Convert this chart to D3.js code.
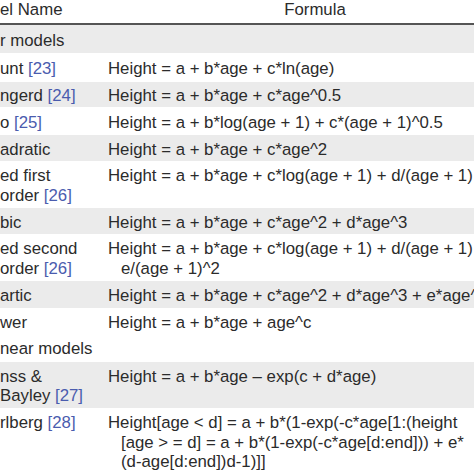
<!DOCTYPE html>
<html>
<head>
<meta charset="utf-8">
<script src="https://d3js.org/d3.v7.min.js"></script>
<style>
  body { margin: 0; background: #fff; }
  text { font-family: "Liberation Sans", Arial, sans-serif; font-size: 16.8px; fill: #2b2b2b; }
  .ref { fill: #4a5cae; }
</style>
</head>
<body>
<script>
// table content (left column is cut off at the edge)
var headers = ["el Name", "Formula"];
var names = [
  [["r models", ""]],
  [["unt ", "[23]"]],
  [["ngerd ", "[24]"]],
  [["o ", "[25]"]],
  [["adratic", ""]],
  [["ed first", ""], ["order ", "[26]"]],
  [["bic", ""]],
  [["ed second", ""], ["order ", "[26]"]],
  [["artic", ""]],
  [["wer", ""]],
  [["near models", ""]],
  [["nss &", ""], ["Bayley ", "[27]"]],
  [["rlberg ", "[28]"]]
];
var formulas = [
  [],
  ["Height = a + b*age + c*ln(age)"],
  ["Height = a + b*age + c*age^0.5"],
  ["Height = a + b*log(age + 1) + c*(age + 1)^0.5"],
  ["Height = a + b*age + c*age^2"],
  ["Height = a + b*age + c*log(age + 1) + d/(age + 1)"],
  ["Height = a + b*age + c*age^2 + d*age^3"],
  ["Height = a + b*age + c*log(age + 1) + d/(age + 1) +", "e/(age + 1)^2"],
  ["Height = a + b*age + c*age^2 + d*age^3 + e*age^4"],
  ["Height = a + b*age + age^c"],
  [],
  ["Height = a + b*age \u2013 exp(c + d*age)"],
  ["Height[age < d] = a + b*(1-exp(-c*age[1:(height", "[age > = d] = a + b*(1-exp(-c*age[d:end])) + e*", "(d-age[d:end])d-1)]]"]
];
var shaded = [1, 0, 1, 0, 1, 0, 1, 0, 1, 0, 0, 1, 0];
var rowHeights = [29, 28, 26, 27, 27, 46, 27, 46, 28, 25, 28, 47, 65];

var W = 474, H = 474, top0 = 25, lineGap = 19.5;
var svg = d3.select("body").append("svg").attr("width", W).attr("height", H);

var offsets = d3.cumsum([0].concat(rowHeights)).map(function(v) { return v + top0; });

var rows = svg.selectAll("g.row").data(names).enter().append("g").attr("class", "row")
  .attr("transform", function(d, i) { return "translate(0," + offsets[i] + ")"; });

rows.append("rect")
  .attr("width", W)
  .attr("height", function(d, i) { return rowHeights[i] - 1; })
  .attr("fill", function(d, i) { return shaded[i] ? "#ebebeb" : "#fff"; });

rows.each(function(d, i) {
  var g = d3.select(this);
  var n = Math.max(d.length, formulas[i].length);
  var firstY = (rowHeights[i] - (n - 1) * lineGap) / 2 + 6;
  d.forEach(function(parts, k) {
    var t = g.append("text").attr("x", 0).attr("y", firstY + k * lineGap);
    t.append("tspan").text(parts[0]);
    if (parts[1]) t.append("tspan").attr("class", "ref").text(parts[1]);
  });
  formulas[i].forEach(function(f, k) {
    g.append("text").attr("x", k ? 121 : 108).attr("y", firstY + k * lineGap).text(f);
  });
});

svg.append("text").attr("x", 0).attr("y", 15).text(headers[0]);
svg.append("text").attr("x", 315).attr("y", 15).attr("text-anchor", "middle").text(headers[1]);
svg.append("line").attr("x1", 0).attr("x2", W).attr("y1", 24).attr("y2", 24)
  .attr("stroke", "#555").attr("stroke-width", 2);
</script>
</body>
</html>
